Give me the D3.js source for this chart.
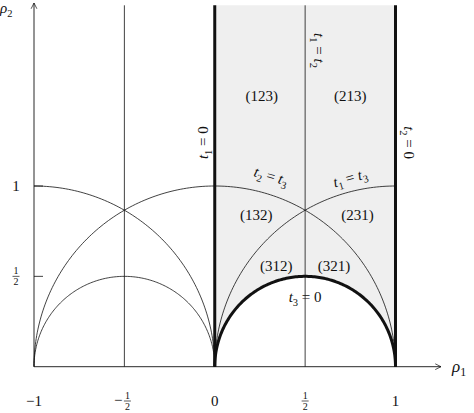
<!DOCTYPE html>
<html><head><meta charset="utf-8">
<script src="https://cdn.jsdelivr.net/npm/d3@7"></script>
<style>body{margin:0;background:#fff}</style>
</head><body>
<script>
// arcs: center x, radius, from/to angle (deg, 0 = +x axis), thick?
const arcs = [
  {cx: 0, r: 1, a0: 0, a1: 180, thick: false},
  {cx: -1, r: 1, a0: 0, a1: 90, thick: false},
  {cx: 1, r: 1, a0: 90, a1: 180, thick: false},
  {cx: -0.5, r: 0.5, a0: 0, a1: 180, thick: false},
  {cx: 0.5, r: 0.5, a0: 0, a1: 180, thick: true}
];
const vlines = [
  {x: -0.5, thick: false},
  {x: 0.5, thick: false},
  {x: 0, thick: true},
  {x: 1, thick: true}
];
// value, sign, numerator, denominator (null = integer)
const xTicks = [[-1, "−", "1", null], [-0.5, "−", "1", "2"], [0, "", "0", null], [0.5, "", "1", "2"], [1, "", "1", null]];
const yTicks = [[0.5, "1", "2"], [1, "1", null]];
const regions = [
  ["(123)", 0.26, 1.50], ["(213)", 0.75, 1.50],
  ["(132)", 0.23, 0.84], ["(231)", 0.79, 0.84],
  ["(312)", 0.34, 0.56], ["(321)", 0.66, 0.56]
];
// [var, sub, rhs var, rhs sub], x, y, rotation
const lineLabels = [
  [["t", "1", "0", ""], -0.06, 1.24, -90],
  [["t", "1", "t", "2"], 0.57, 1.75, 90],
  [["t", "2", "0", ""], 1.07, 1.24, 90],
  [["t", "2", "t", "3"], 0.31, 1.05, 16],
  [["t", "1", "t", "3"], 0.75, 1.04, -16],
  [["t", "3", "0", ""], 0.50, 0.38, 0]
];

const W = 474, H = 413, yTop = 2.0;
const x = d3.scaleLinear().domain([-1, 1]).range([34, 395.5]);
const y = d3.scaleLinear().domain([0, 1]).range([366.7, 186]);
const svg = d3.select("body").append("svg").attr("width", W).attr("height", H)
  .attr("font-family", "'Liberation Serif', 'DejaVu Serif', serif").attr("fill", "#111");

// shaded strip above t3=0
const sh = d3.path();
sh.moveTo(x(0), y(yTop)); sh.lineTo(x(0), y(0));
d3.range(180, -1, -2).forEach(a => {
  const t = a * Math.PI / 180;
  sh.lineTo(x(0.5 + 0.5 * Math.cos(t)), y(0.5 * Math.sin(t)));
});
sh.lineTo(x(1), y(yTop)); sh.closePath();
svg.append("path").attr("d", sh.toString()).attr("fill", "#efefef");

const arcPath = d => {
  const p = d3.path();
  d3.range(d.a0, d.a1 + 0.5, 1).forEach((a, i) => {
    const t = a * Math.PI / 180;
    const px = x(d.cx + d.r * Math.cos(t)), py = y(d.r * Math.sin(t));
    i ? p.lineTo(px, py) : p.moveTo(px, py);
  });
  return p.toString();
};
svg.selectAll(".arc").data(arcs).join("path")
  .attr("d", arcPath).attr("fill", "none").attr("stroke", "#111")
  .attr("stroke-width", d => d.thick ? 3 : 0.8);
svg.selectAll(".vl").data(vlines).join("line")
  .attr("x1", d => x(d.x)).attr("x2", d => x(d.x))
  .attr("y1", y(0)).attr("y2", y(yTop))
  .attr("stroke", "#111").attr("stroke-width", d => d.thick ? 3 : 0.8);

// axes with arrows
svg.append("defs").append("marker").attr("id", "ar").attr("viewBox", "0 0 10 10")
  .attr("refX", 9).attr("refY", 5).attr("markerWidth", 8).attr("markerHeight", 8)
  .attr("orient", "auto").append("path").attr("d", "M1,1 L9,5 L1,9")
  .attr("fill", "none").attr("stroke", "#111").attr("stroke-width", 1);
svg.append("line").attr("x1", x(-1)).attr("x2", 441).attr("y1", y(0)).attr("y2", y(0))
  .attr("stroke", "#111").attr("stroke-width", 0.9).attr("marker-end", "url(#ar)");
svg.append("line").attr("x1", x(-1)).attr("x2", x(-1)).attr("y1", y(0)).attr("y2", 3)
  .attr("stroke", "#111").attr("stroke-width", 0.9).attr("marker-end", "url(#ar)");

function subText(sel, base, sub, size) {
  sel.append("tspan").attr("font-style", "italic").text(base);
  if (sub) sel.append("tspan").attr("font-size", size * 0.7).attr("dy", 4).text(sub);
}
const r1 = svg.append("text").attr("x", 452).attr("y", 372).attr("font-size", 17);
subText(r1, "ρ", "1", 17);
const r2 = svg.append("text").attr("x", 0).attr("y", 13).attr("font-size", 15);
subText(r2, "ρ", "2", 15);

function fraction(g, cx, cy, num, den, sign) {
  if (!den) {
    g.append("text").attr("x", cx).attr("y", cy + 5).attr("text-anchor", "middle")
      .attr("font-size", 15).text(sign + num);
    return;
  }
  if (sign) g.append("text").attr("x", cx - 5).attr("y", cy + 4).attr("text-anchor", "end")
    .attr("font-size", 15).text(sign);
  g.append("text").attr("x", cx).attr("y", cy - 2).attr("text-anchor", "middle").attr("font-size", 10).text(num);
  g.append("line").attr("x1", cx - 3.5).attr("x2", cx + 3.5).attr("y1", cy).attr("y2", cy)
    .attr("stroke", "#111").attr("stroke-width", 0.7);
  g.append("text").attr("x", cx).attr("y", cy + 9).attr("text-anchor", "middle").attr("font-size", 10).text(den);
}
xTicks.forEach(d => fraction(svg, x(d[0]) + (d[1] && d[3] ? 3 : 0), 401, d[2], d[3], d[1]));
svg.selectAll(".yt").data(yTicks).join("line")
  .attr("x1", x(-1)).attr("x2", x(-1) + 9).attr("y1", d => y(d[0])).attr("y2", d => y(d[0]))
  .attr("stroke", "#111").attr("stroke-width", 0.8);
yTicks.forEach(d => fraction(svg, 16, y(d[0]), d[1], d[2], ""));

svg.selectAll(".rg").data(regions).join("text")
  .attr("x", d => x(d[1])).attr("y", d => y(d[2]) + 5).attr("text-anchor", "middle")
  .attr("font-size", 15).text(d => d[0]);
lineLabels.forEach(d => {
  const [lab, lx, ly, rot] = d;
  const t = svg.append("text")
    .attr("transform", `translate(${x(lx)},${y(ly)}) rotate(${rot})`)
    .attr("text-anchor", "middle").attr("dy", 4).attr("font-size", 15);
  subText(t, lab[0], lab[1], 15);
  t.append("tspan").attr("dy", lab[1] ? -4 : 0).text(" = ");
  if (lab[3]) { subText(t, lab[2], lab[3], 15); } else t.append("tspan").text(lab[2]);
});
</script>
</body></html>
